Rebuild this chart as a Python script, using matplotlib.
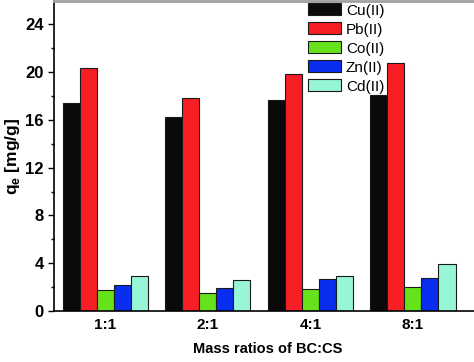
import numpy as np
import matplotlib
matplotlib.use('Agg')
from matplotlib import pyplot as plt

# 数据
ratios = ['1:1', '2:1', '4:1', '8:1']
metals = ['Cu(II)', 'Pb(II)', 'Co(II)', 'Zn(II)', 'Cd(II)']
cu = [17.45, 16.23, 17.7, 18.07]
pb = [20.36, 17.8, 19.83, 20.78]
co = [1.76, 1.53, 1.82, 1.98]
zn = [2.18, 1.9, 2.65, 2.73]
cd = [2.93, 2.6, 2.9, 3.93]
colors = ['#0a0a0a', '#f81e26', '#66e21a', '#0a2ef0', '#98f6d8']

plt.rcParams['font.family'] = ['Liberation Sans', 'DejaVu Sans']

fig = plt.figure(figsize=(4.74, 3.62), dpi=100)
ax = fig.add_axes([0.114, 0.141, 0.9, 0.856])

x = np.arange(1, len(ratios) + 1)
w = 0.166
for i, vals in enumerate([cu, pb, co, zn, cd]):
    ax.bar(x + (i - 2) * w, vals, width=w, color=colors[i], edgecolor='#1a1a1a',
           linewidth=0.8, label=metals[i])

ax.set_xlim(0.5, 4.66)
ax.set_ylim(0, 25.95)
ax.set_xticks(x)
ax.set_xticklabels(ratios, fontsize=11, fontweight='bold')
ax.set_yticks(np.arange(0, 25, 4))
ax.set_yticks(np.arange(0, 26, 2), minor=True)
ax.tick_params(axis='y', which='major', labelsize=12, length=4, width=1)
ax.tick_params(axis='y', which='minor', length=2.5, width=1)
ax.tick_params(axis='x', length=0, pad=5)
for lab in ax.get_yticklabels():
    lab.set_fontweight('bold')
ax.spines['top'].set_color('#a0a0a0')
ax.spines['top'].set_linewidth(2)
ax.spines['left'].set_linewidth(1.2)
ax.spines['bottom'].set_linewidth(1.2)

ax.set_xlabel('Mass ratios of BC:CS', fontsize=10.5, fontweight='bold', labelpad=7)
ax.set_ylabel(r'q$_\mathregular{e}$ [mg/g]', fontsize=12.5, fontweight='bold', labelpad=2)

ax.legend(loc='upper left', bbox_to_anchor=(307 / 474, 0.993), bbox_transform=fig.transFigure,
          frameon=False, fontsize=11, handlelength=2.2, handleheight=0.85,
          labelspacing=0.3, handletextpad=0.3, borderaxespad=0, borderpad=0.05)

fig.savefig('out.png', dpi=100)
